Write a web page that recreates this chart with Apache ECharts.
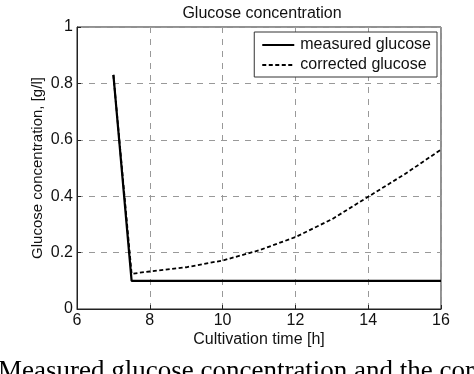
<!DOCTYPE html>
<html><head><meta charset="utf-8">
<script src="https://cdn.jsdelivr.net/npm/echarts@6/dist/echarts.min.js"></script>
<style>html,body{margin:0;padding:0;background:#fff}#c{width:474px;height:374px}</style>
</head><body><div id="c"></div>
<script>
var measuredX = [7, 7.5, 16];
var measuredY = [0.83, 0.1, 0.1];
var correctedX = [7, 7.5, 8, 9, 10, 11, 12, 13, 14, 15, 16];
var correctedY = [0.83, 0.125, 0.133, 0.148, 0.172, 0.208, 0.255, 0.318, 0.398, 0.478, 0.565];
var xTicks = [6, 8, 10, 12, 14, 16];
var yTicks = [0, 0.2, 0.4, 0.6, 0.8, 1];

function pairs(xs, ys){ return xs.map(function(x,i){return [x, ys[i]];}); }
var font = 'Liberation Sans';
var chart = echarts.init(document.getElementById('c'));
chart.setOption({
  animation: false,
  backgroundColor: '#fff',
  title: {text: 'Glucose concentration', left: 257, top: 1, textAlign: 'center',
    textStyle: {fontFamily: font, fontSize: 16, fontWeight: 'normal', color: '#111'}},
  grid: {left: 77, right: 33, top: 27, bottom: 65, show: true, borderColor: '#222', borderWidth: 1},
  legend: {
    right: 37, top: 32, orient: 'vertical', itemGap: 4, itemWidth: 32, itemHeight: 16,
    borderColor: '#333', borderWidth: 1, padding: [5, 6, 4, 7], borderRadius: 0,
    backgroundColor: '#fff',
    itemStyle: {opacity: 0},
    textStyle: {fontFamily: font, fontSize: 16, color: '#111', padding: [0, 0, 0, 1]},
    data: ['measured glucose', 'corrected glucose']
  },
  xAxis: {type: 'value', min: 6, max: 16, interval: 2,
    name: 'Cultivation time [h]', nameLocation: 'middle', nameGap: 23, nameMoveOverlap: false,
    nameTextStyle: {fontFamily: font, fontSize: 16, color: '#111'},
    axisLine: {lineStyle: {color: '#222'}},
    axisTick: {inside: true, length: 4, lineStyle: {color: '#222'}},
    axisLabel: {fontFamily: font, fontSize: 16, color: '#111', margin: 4,
      formatter: function(v){ return xTicks.indexOf(v) >= 0 ? String(v) : ''; }},
    splitLine: {show: true, lineStyle: {color: '#999', type: [6, 6]}}
  },
  yAxis: {type: 'value', min: 0, max: 1, interval: 0.2,
    name: 'Glucose concentration, [g/l]', nameLocation: 'middle', nameGap: 32, nameMoveOverlap: false,
    nameTextStyle: {fontFamily: font, fontSize: 15, color: '#111'},
    axisLine: {show: true, lineStyle: {color: '#222'}},
    axisTick: {show: true, inside: true, length: 4, lineStyle: {color: '#222'}},
    axisLabel: {fontFamily: font, fontSize: 16, color: '#111', margin: 4,
      formatter: function(v){ var r = Math.round(v*10)/10; return yTicks.indexOf(r) >= 0 ? String(r) : ''; }},
    splitLine: {show: true, lineStyle: {color: '#999', type: [6, 6]}}
  },
  series: [
    {name: 'corrected glucose', type: 'line', data: pairs(correctedX, correctedY), symbol: 'none', smooth: false,
      lineStyle: {color: '#000', width: 1.8, type: [4, 2.5]}, itemStyle: {color: '#000'}},
    {name: 'measured glucose', type: 'line', data: pairs(measuredX, measuredY), symbol: 'none',
      lineStyle: {color: '#000', width: 2.2}, itemStyle: {color: '#000'}}
  ],
  graphic: [{type: 'text', left: -2, top: 358,
    style: {text: 'Measured glucose concentration and the corrected glucose concentration', font: '27px "Liberation Serif"', fill: '#000'}}]
});
</script></body></html>
